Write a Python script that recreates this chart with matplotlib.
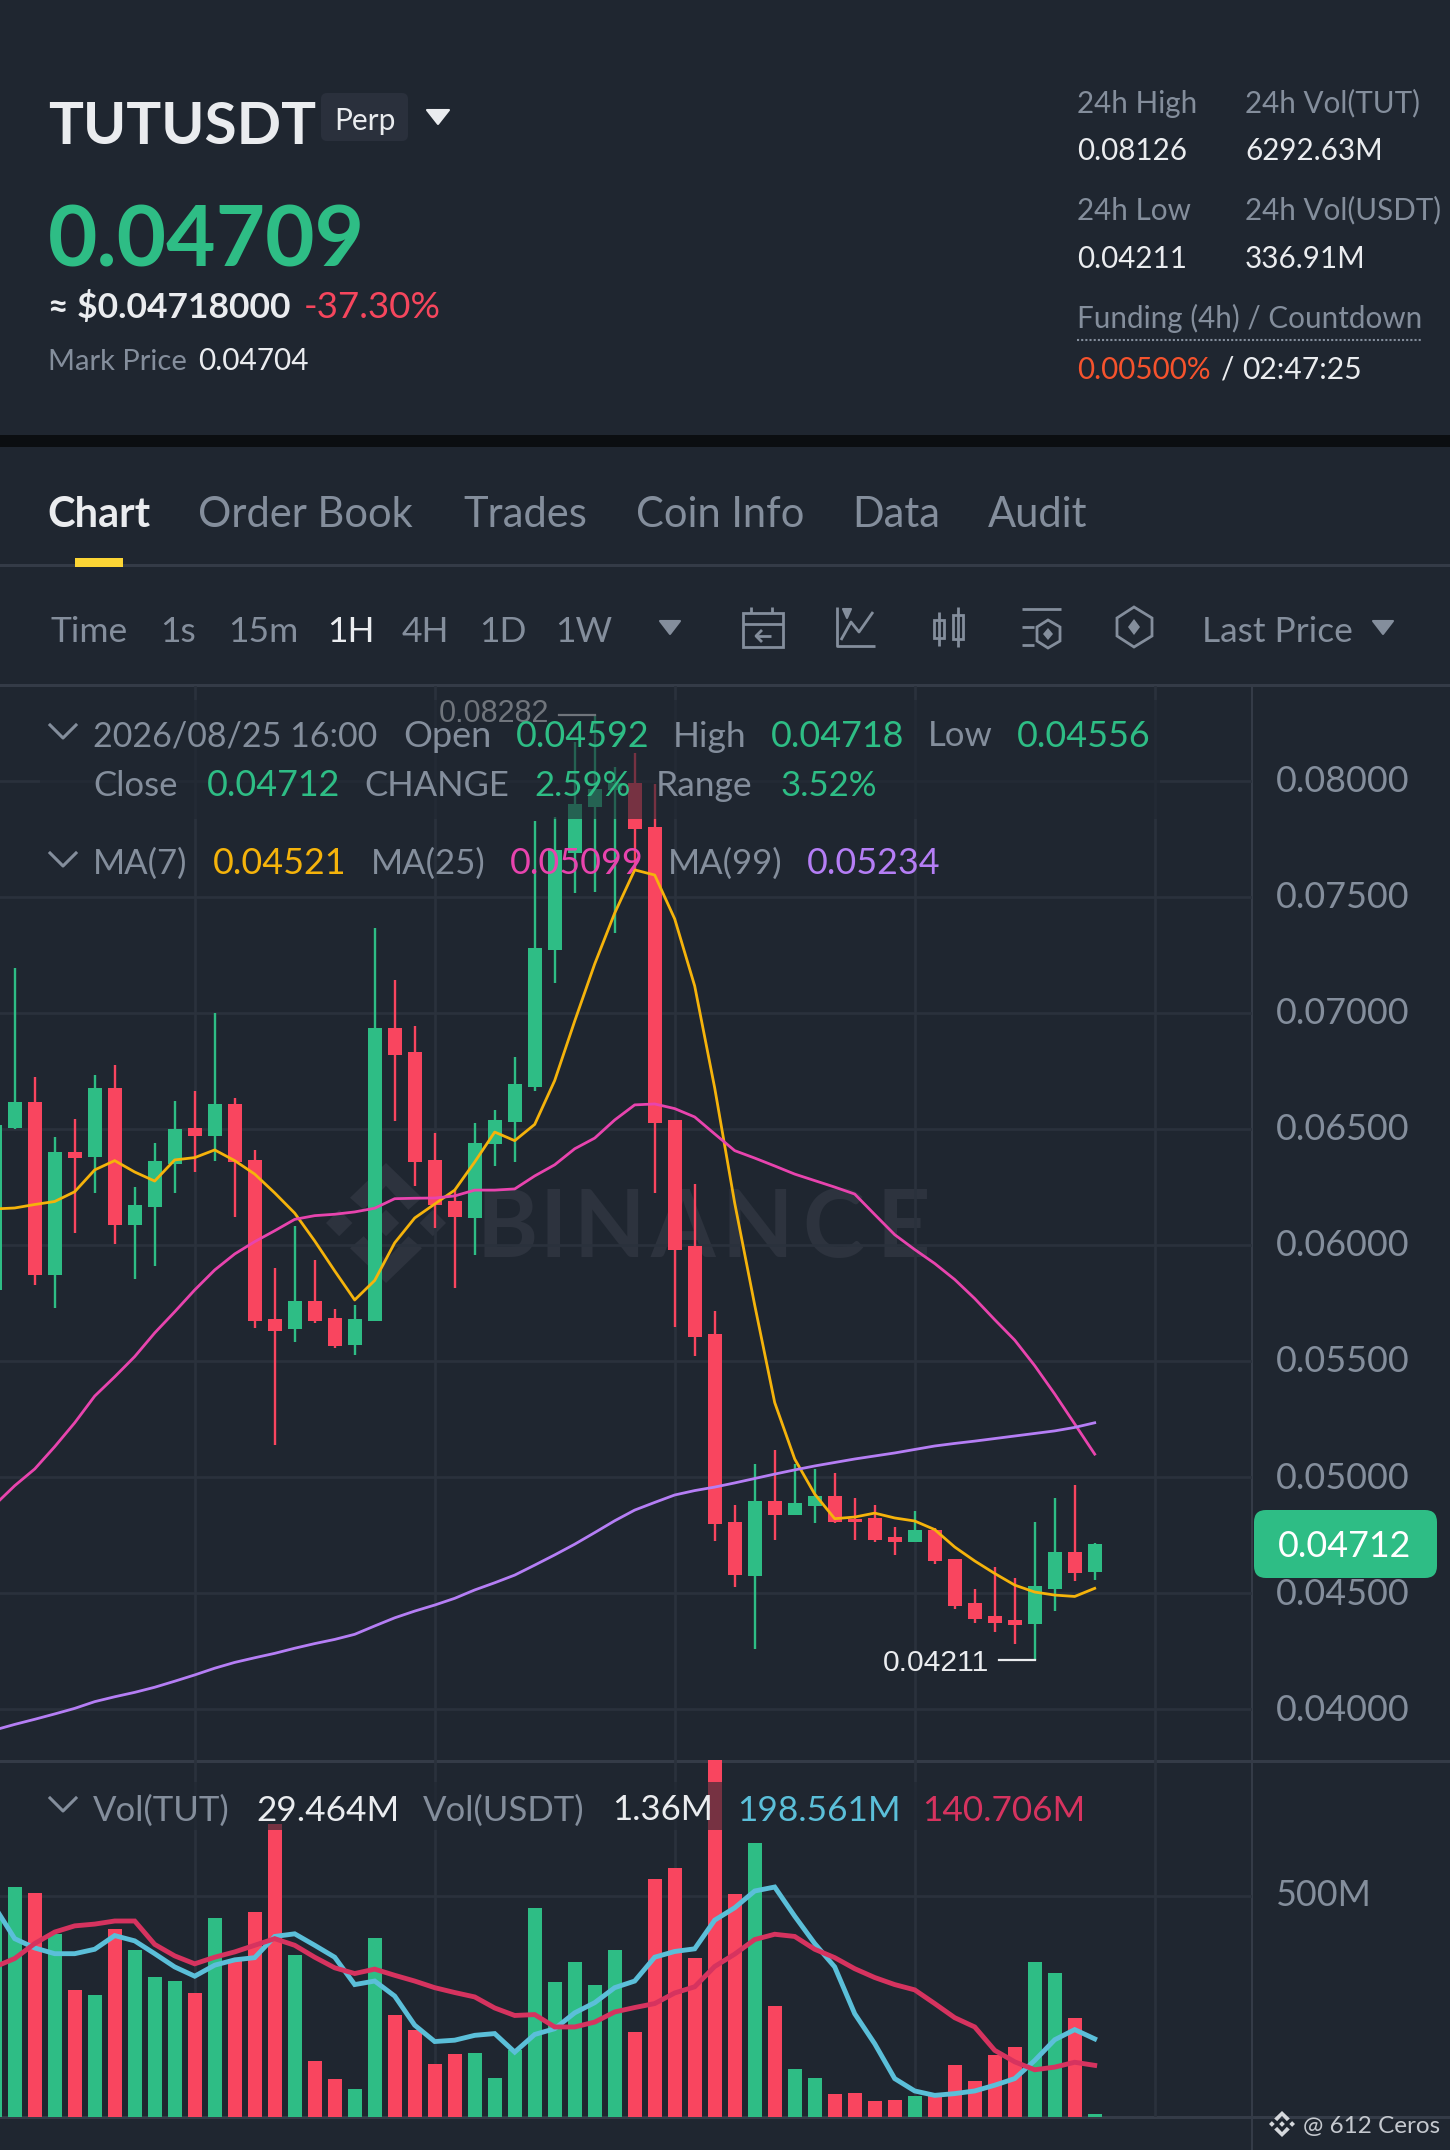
import numpy as np
import matplotlib
matplotlib.use("Agg")
import matplotlib.pyplot as plt
from matplotlib.patches import Polygon, Rectangle, FancyBboxPatch
from matplotlib.transforms import ScaledTranslation

plt.rcParams['font.family'] = ['Lato', 'DejaVu Sans']

W, H = 1450, 2150

# candles, hour by hour (first one is cut by the left edge)
opens = [.05806, .06503, .06614, .05870, .06400, .06379, .06676, .06086, .06163, .06348, .06503, .06469, .06605, .06367,
         .05681, .05636, .05758, .05685, .05569, .05672, .06932, .06829, .06367, .06187, .06116, .06435, .06529, .06680,
         .07270, .07689, .07886, .07959, .07989, .07801, .06538, .05997, .05618, .04807, .04574, .04895, .04835, .04876,
         .04919, .04821, .04826, .04742, .04722, .04774, .04648, .04459, .04402, .04385, .04368, .04519, .04678, .04592]
highs = [.06516, .07193, .06723, .06465, .06542, .06732, .06775, .06249, .06439, .06620, .06663, .06999, .06633, .06409,
         .05901, .06081, .05935, .05724, .05743, .07363, .07143, .06943, .06484, .06236, .06525, .06583, .06811, .07826,
         .07843, .08167, .08282, .08058, .08118, .07985, .06538, .06262, .05715, .04882, .05056, .05118, .05056, .05033,
         .05019, .04910, .04882, .04785, .04854, .04781, .04648, .04519, .04615, .04565, .04808, .04912, .04967, .04718]
lows = [.05806, .06499, .05827, .05730, .06053, .06224, .06004, .05855, .05909, .06224, .06314, .06363, .06120, .05642,
        .05138, .05582, .05664, .05556, .05528, .05672, .06534, .06254, .06071, .05814, .05957, .06340, .06359, .06663,
        .07126, .07517, .07520, .07345, .07610, .06224, .05646, .05522, .04725, .04527, .04258, .04730, .04835, .04802,
        .04802, .04730, .04722, .04665, .04722, .04624, .04432, .04373, .04333, .04283, .04211, .04423, .04553, .04556]
closes = [.06516, .06615, .05870, .06400, .06374, .06676, .06086, .06170, .06361, .06501, .06471, .06605, .06357, .05672,
          .05631, .05758, .05672, .05565, .05681, .06932, .06818, .06357, .06174, .06120, .06439, .06538, .06693, .07279,
          .07701, .07899, .07963, .07989, .07791, .06525, .05980, .05603, .04799, .04577, .04895, .04835, .04890, .04919,
          .04808, .04808, .04730, .04722, .04774, .04639, .04445, .04387, .04373, .04363, .04533, .04678, .04587, .04712]

ma7 = [.06155, .06159, .06174, .06187, .06229, .06323, .06363, .06314, .06275, .06366, .06376, .06409, .06363, .06305,
       .06224, .06137, .06017, .05888, .05763, .05847, .06009, .06116, .06176, .06236, .06357, .06486, .06449, .06519,
       .06708, .06964, .07210, .07429, .07615, .07593, .07404, .07115, .06676, .06180, .05741, .05321, .05078, .04927,
       .04821, .04828, .04845, .04824, .04811, .04774, .04699, .04639, .04585, .04535, .04505, .04492, .04486, .04521]
ma25 = [.04880, .04963, .05035, .05131, .05234, .05349, .05432, .05519, .05621, .05712, .05806, .05892, .05961, .06014,
        .06061, .06110, .06126, .06132, .06142, .06158, .06199, .06201, .06202, .06211, .06236, .06236, .06241, .06297,
        .06345, .06414, .06460, .06538, .06603, .06607, .06587, .06551, .06478, .06406, .06374, .06340, .06305, .06277,
        .06249, .06219, .06131, .06044, .05980, .05920, .05851, .05769, .05678, .05590, .05480, .05358, .05229, .05099]
ma99 = [.03911, .03935, .03957, .03980, .04004, .04033, .04054, .04073, .04095, .04121, .04148, .04177, .04202, .04222,
        .04241, .04263, .04283, .04301, .04323, .04359, .04394, .04423, .04449, .04478, .04514, .04545, .04578, .04621,
        .04665, .04711, .04761, .04812, .04858, .04891, .04923, .04942, .04957, .04975, .04994, .05013, .05031, .05048,
        .05063, .05078, .05091, .05104, .05119, .05134, .05145, .05155, .05166, .05177, .05188, .05199, .05214, .05234]

# volume in millions
volume = [458, 521, 507.5, 415, 288.5, 275.6, 425, 377.6, 316.4, 307.3, 280, 450.8, 358.8, 464.4,
          663, 367, 127.6, 85.3, 64.2, 405.5, 231.8, 197.8, 119.3, 143.5, 145, 87.6, 151, 474.2,
          305.8, 351.9, 298.3, 379, 193.3, 540, 564, 359.5, 809, 505, 620, 252, 108, 89,
          52, 54.4, 37, 39.3, 46.8, 47.6, 118.6, 82.3, 140.5, 159.4, 350.4, 325.5, 223.5, 7.5]
vol_ma5 = [476, 404, 383, 370, 370, 380, 411, 399, 370, 340, 319, 344, 356, 361,
           409, 415, 389, 362, 300, 308, 274, 208, 171, 174, 185, 189, 147, 187,
           200, 236, 259, 293, 308, 362, 375, 381, 446, 474, 512, 521, 455, 393,
           340, 234, 166, 87, 59, 49, 53, 59, 72, 87, 128, 175, 198, 177]
vol_ma10 = [340, 359, 393, 419, 433, 437, 444, 444, 391, 365, 347, 362, 374, 389,
            404, 389, 362, 338, 325, 335, 321, 308, 293, 282, 272, 247, 230, 232,
            204, 204, 215, 238, 248, 257, 281, 295, 341, 369, 402, 414, 409, 380,
            361, 336, 316, 300, 288, 257, 225, 204, 151, 125, 107, 113, 124, 117]

price_ticks = [.04, .045, .05, .055, .06, .065, .07, .075, .08]
time_ticks = [9, 21, 33, 45, 57]

BG = '#1F2630'
GRID = '#2A313C'
SEP = '#343B47'
GREEN = '#2EBD85'
RED = '#F9455F'
GREY = '#848E9C'
WHITE = '#EAECEF'
DIG = 25.8  # numbers run a bit wider than words in the original font
HDR = 21.3

idx = np.arange(-1, 55)
opens = np.array(opens)
closes = np.array(closes)
up = closes >= opens
colors = [GREEN if u else RED for u in up]


def px_axes(x0, y0, x1, y1, **kw):
    return fig.add_axes([x0 / W, 1 - y1 / H, (x1 - x0) / W, (y1 - y0) / H], **kw)


def text(x, y, s, size=25, color=GREY, ha='left', weight='normal'):
    # y is the middle of the capitals, not the text box
    base = y + size * 100 / 72 * 0.36
    ax_ui.text(x, base, s, fontsize=size, color=color, ha=ha, va='baseline', fontweight=weight)


def logo(ax, cx, cy, s, color, wide=0.6):
    top = [(-wide, -0.42), (0, -1), (wide, -0.42), (wide * 0.62, -0.22), (0, -0.62), (-wide * 0.62, -0.22)]
    for sign in (1, -1):
        ax.add_patch(Polygon([(cx + a * s, cy + sign * b * s) for a, b in top], fc=color, ec='none'))
    for dx in (-0.78, 0, 0.78):
        r = 0.22
        ax.add_patch(Polygon([(cx + (dx - r) * s, cy), (cx + dx * s, cy - r * s), (cx + (dx + r) * s, cy), (cx + dx * s, cy + r * s)],
                             fc=color, ec='none'))


def tri(x0, x1, y0, y1, color):
    ax_ui.add_patch(Polygon([(x0, y0), (x1, y0), ((x0 + x1) / 2, y1)], fc=color, ec=color, lw=1.5, joinstyle='round'))


fig = plt.figure(figsize=(W / 100, H / 100), dpi=100, facecolor=BG)

# background layer: bands, separators, watermark
ax_bg = fig.add_axes([0, 0, 1, 1], zorder=0)
ax_bg.set_xlim(0, W)
ax_bg.set_ylim(H, 0)
ax_bg.axis('off')
ax_bg.add_patch(Rectangle((0, 435), W, 12, fc='#0B0E11', ec='none'))
ax_bg.add_patch(Rectangle((0, 564), W, 3, fc=SEP, ec='none'))
ax_bg.add_patch(Rectangle((0, 684), W, 3, fc=SEP, ec='none'))
ax_bg.add_patch(Rectangle((0, 1760), W, 3, fc=SEP, ec='none'))
ax_bg.add_patch(Rectangle((0, 2116), W, 3, fc=SEP, ec='none'))
ax_bg.add_patch(Rectangle((1251, 686), 2.5, H - 686, fc=SEP, ec='none'))
logo(ax_bg, 386, 1223, 60, '#2D333E')
for x, ch in zip([507, 553, 609, 683, 757, 833, 903], 'BINANCE'):
    ax_bg.text(x, 1257, ch, fontsize=67, fontweight='bold', color='#2D333E', ha='center', va='baseline')

# price panel
ax = px_axes(0, 686, 1252, 1761, zorder=1)
ax.patch.set_alpha(0)
ax.set_xlim(-0.735, 61.865)
ax.set_ylim(0.037774, 0.08407)
ax.vlines(idx, lows, highs, colors=colors, linewidth=1.7, zorder=3)
ax.bar(idx, np.abs(closes - opens), bottom=np.minimum(opens, closes), width=0.69, color=colors, zorder=3)
ax.plot(idx, ma7, color='#F5B30B', lw=2, zorder=4)
ax.plot(idx, ma25, color='#E844AE', lw=2, zorder=4)
ax.plot(idx, ma99, color='#B57EF5', lw=2, zorder=4)

i_high = int(np.argmax(highs)) - 1
i_low = int(np.argmin(lows)) - 1
ax.plot([i_high - 1.8, i_high], [max(highs)] * 2, color=WHITE, lw=1.6, zorder=4)
ax.annotate('%.5f' % max(highs), (i_high - 1.8, max(highs)), xytext=(-7, 1), textcoords='offset points', ha='right', va='center',
            fontsize=22, color=WHITE, family='Liberation Sans', zorder=4)
ax.plot([i_low - 1.8, i_low], [min(lows)] * 2, color=WHITE, lw=1.6, zorder=4)
ax.annotate('%.5f' % min(lows), (i_low - 1.8, min(lows)), xytext=(-7, -2), textcoords='offset points', ha='right', va='center',
            fontsize=21.7, color=WHITE, family='Liberation Sans', zorder=4)

# volume panel
ax_v = px_axes(0, 1761, 1252, 2117, zorder=1)
ax_v.patch.set_alpha(0)
ax_v.set_xlim(-0.735, 61.865)
ax_v.set_ylim(0, 806.5)
ax_v.bar(idx, volume, width=0.69, color=colors, zorder=3, clip_on=False)
ax_v.plot(idx, vol_ma5, color='#5BBFD9', lw=3.5, zorder=4, solid_joinstyle='miter')
ax_v.plot(idx, vol_ma10, color='#D6335F', lw=3.5, zorder=4, solid_joinstyle='miter')

for a in (ax, ax_v):
    a.set_xticks(time_ticks)
    a.tick_params(axis='x', length=0, labelbottom=False)
    a.tick_params(axis='y', length=0, labelleft=False, labelright=True, pad=17, labelsize=DIG, labelcolor=GREY)
    a.grid(True, color=GRID, lw=2)
    a.set_axisbelow(True)
    for sp in a.spines.values():
        sp.set_visible(False)
ax.set_yticks(price_ticks)
ax.set_yticklabels(['%.5f' % p for p in price_ticks])
ax_v.set_yticks([500])
ax_v.set_yticklabels(['500M'])
# labels sit a little above their grid lines
lift = ScaledTranslation(0, 1.5 / 72, fig.dpi_scale_trans)
for lab in ax.get_yticklabels():
    lab.set_transform(lab.get_transform() + lift)
for lab in ax_v.get_yticklabels():
    lab.set_transform(lab.get_transform() + ScaledTranslation(0, 2.5 / 72, fig.dpi_scale_trans))

# top layer: masks, header, legends
ax_ui = fig.add_axes([0, 0, 1, 1], zorder=5)
ax_ui.set_xlim(0, W)
ax_ui.set_ylim(H, 0)
ax_ui.axis('off')
ax_ui.patch.set_alpha(0)
ax_ui.add_patch(Rectangle((40, 700), 1120, 119, fc=BG, ec='none', alpha=0.6))
ax_ui.add_patch(Rectangle((40, 1782), 1050, 48, fc=BG, ec='none', alpha=0.6))

# header left
text(48, 123, 'TUTUSDT', size=42, color=WHITE, weight='bold')
ax_ui.add_patch(FancyBboxPatch((325, 97), 79, 40, boxstyle='round,pad=4,rounding_size=6', fc='#2A303C', ec='none'))
text(334, 119, 'Perp', size=21.5, color=WHITE)
tri(427, 449, 110, 124, WHITE)
text(48, 236, '0.04709', size=61.5, color=GREEN, weight='bold')
text(48, 305, '≈ $0.04718000', size=25.5, color=WHITE, weight='bold')
text(304, 305, '-37.30%', size=26.5, color='#F6465D')
text(48, 359, 'Mark Price', size=21, color=GREY)
text(198, 359, '0.04704', size=21.5, color=WHITE)

# header right
text(1077, 102, '24h High', size=HDR)
text(1245, 102, '24h Vol(TUT)', size=HDR)
text(1077, 149, '0.08126', size=HDR, color=WHITE)
text(1245, 149, '6292.63M', size=HDR, color=WHITE)
text(1077, 209, '24h Low', size=HDR)
text(1245, 209, '24h Vol(USDT)', size=HDR)
text(1077, 257, '0.04211', size=HDR, color=WHITE)
text(1245, 257, '336.91M', size=HDR, color=WHITE)
text(1077, 317, 'Funding (4h) / Countdown', size=HDR)
ax_ui.plot([1077, 1422], [340, 340], color=GREY, lw=1.5, ls=(0, (1, 1)))
text(1077, 368, '0.00500%', size=HDR, color='#F6532D')
text(1221, 368, '/', size=HDR, color=WHITE)
text(1242, 368, '02:47:25', size=21.7, color=WHITE)

# tabs
for x, s, c in [(47, 'Chart', WHITE), (198, 'Order Book', GREY), (463, 'Trades', GREY), (636, 'Coin Info', GREY), (852, 'Data', GREY), (988, 'Audit', GREY)]:
    text(x, 512, s, size=30, color=c, weight='bold' if s == 'Chart' else 'normal')
ax_ui.add_patch(Rectangle((75, 558), 48, 9, fc='#FCD535', ec='none'))

# toolbar
for x, s, c in [(51, 'Time', GREY), (160, '1s', GREY), (228, '15m', GREY), (327, '1H', WHITE), (402, '4H', GREY), (479, '1D', GREY), (555, '1W', GREY), (1202, 'Last Price', GREY)]:
    text(x, 629, s, size=25.5, color=c)
tri(660, 680, 621, 634, GREY)
tri(1373, 1393, 621, 634, GREY)

ic = dict(color=GREY, lw=2, solid_capstyle='butt')
# calendar
ax_ui.add_patch(Rectangle((743, 613), 40, 34, fc='none', ec=GREY, lw=2))
ax_ui.plot([743, 783], [624, 624], **ic)
ax_ui.plot([751, 751], [607, 613], **ic)
ax_ui.plot([772, 772], [607, 613], **ic)
ax_ui.plot([756, 771], [636, 636], **ic)
ax_ui.plot([762, 756, 762], [630, 636, 642], **ic)
# line chart
ax_ui.plot([837, 837, 875], [607, 646, 646], **ic)
ax_ui.plot([841, 851, 859, 873], [640, 622, 632, 612], **ic)
tri(843, 851, 609, 618, GREY)
# candles
ax_ui.plot([939, 939], [612, 646], **ic)
ax_ui.plot([958, 958], [607, 647], **ic)
ax_ui.add_patch(Rectangle((934, 620), 10, 18, fc=BG, ec=GREY, lw=2))
ax_ui.add_patch(Rectangle((953, 615), 10, 24, fc=BG, ec=GREY, lw=2))
# indicator settings
ax_ui.plot([1022, 1061], [609, 609], **ic)
ax_ui.plot([1022, 1034], [627, 627], **ic)
ax_ui.plot([1022, 1034], [645, 645], **ic)
ax_ui.add_patch(Polygon([(1048, 620), (1060, 627), (1060, 641), (1048, 648), (1037, 641), (1037, 627)], fc='none', ec=GREY, lw=2))
ax_ui.add_patch(Polygon([(1048, 628), (1053, 634), (1048, 640), (1043, 634)], fc=GREY, ec='none'))
# hexagon
ax_ui.add_patch(Polygon([(1134, 607), (1152, 618), (1152, 636), (1134, 647), (1117, 636), (1117, 618)], fc='none', ec=GREY, lw=2))
ax_ui.add_patch(Polygon([(1134, 619), (1140, 627), (1134, 635), (1128, 627)], fc=GREY, ec='none'))

# legend rows
for y in (733, 861, 1806):
    ax_ui.plot([50, 63, 76], [y - 8, y + 5, y - 8], color=GREY, lw=2.2)

text(93, 734, '2026/08/25 16:00', size=24.5)
text(403, 734, 'Open', size=26)
text(516, 734, '0.04592', size=DIG, color=GREEN)
text(673, 734, 'High', size=25.5)
text(771, 734, '0.04718', size=DIG, color=GREEN)
text(928, 734, 'Low')
text(1017, 734, '0.04556', size=DIG, color=GREEN)
text(93, 783, 'Close')
text(207, 783, '0.04712', size=DIG, color=GREEN)
text(364, 783, 'CHANGE')
text(534, 783, '2.59%', color=GREEN)
text(656, 783, 'Range', size=25.5)
text(781, 783, '3.52%', color=GREEN)
text(93, 861, 'MA(7)')
text(213, 861, '0.04521', size=DIG, color='#F5B30B')
text(371, 861, 'MA(25)')
text(510, 861, '0.05099', size=DIG, color='#E844AE')
text(668, 861, 'MA(99)')
text(807, 861, '0.05234', size=DIG, color='#B57EF5')

text(93, 1808, 'Vol(TUT)')
text(256, 1808, '29.464M', size=25.3, color=WHITE)
text(423, 1808, 'Vol(USDT)')
text(612, 1808, '1.36M', color=WHITE)
text(737, 1808, '198.561M', size=25.3, color='#5BBFD9')
text(922, 1808, '140.706M', size=25.3, color='#D6335F')

# last price tag
ax_ui.add_patch(FancyBboxPatch((1262, 1518), 167, 52, boxstyle='round,pad=8,rounding_size=12', fc=GREEN, ec='none'))
text(1345, 1544, '0.04712', size=DIG, color='white', ha='center')

# corner mark
logo(ax_ui, 1282, 2124, 13, '#D5D8DC', wide=0.6)
text(1303, 2124, '@ 612 Ceros', size=17.5, color='#C5C9CF')

fig.savefig('out.png', dpi=100, facecolor=BG)
